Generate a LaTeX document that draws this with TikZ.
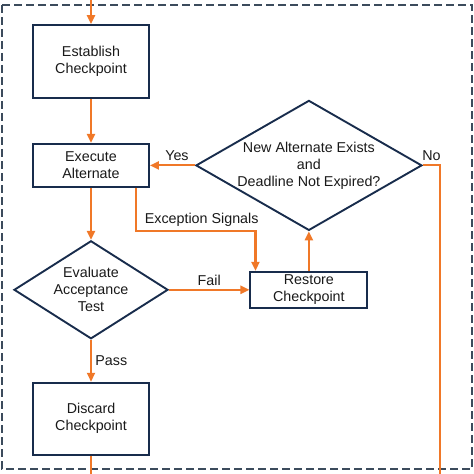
\documentclass[tikz,border=0pt]{standalone}
\usepackage{fontspec}
\setmainfont{Liberation Sans}
\usetikzlibrary{arrows.meta,positioning,shapes.geometric}
\tikzset{>={Triangle[length=9bp,width=8bp]}}
\definecolor{flowor}{RGB}{240,120,40}
\definecolor{navy}{RGB}{24,44,76}
\definecolor{framegray}{RGB}{60,75,92}
\definecolor{textgray}{RGB}{25,25,25}
\colorlet{flowline}{flowor}
\colorlet{blockline}{navy}
\tikzset{box/.style={draw=blockline,line width=1.9bp,minimum width=116bp,inner sep=0pt,align=center},
         test/.style={diamond,draw=blockline,line width=1.9bp,inner sep=0pt,align=center},
         flow/.style={line width=2.2bp,flowline}}

\begin{document}
\begin{tikzpicture}[x=1bp,y=-1bp,font=\fontsize{14.3bp}{17bp}\selectfont,every node/.append style={text=textgray}]
            \useasboundingbox (0,0) rectangle (474,474);
            \draw[framegray,line width=2.4bp,dash pattern=on 8bp off 4bp] (2,5) rectangle (472,469);
            \begin{scope}[node distance = 44bp]
                \node[box,minimum height=73bp] (Est) at (91,61.5) {Establish\\Checkpoint};
                \node[box,minimum height=43bp,below=of Est] (Exe) {Execute\\Alternate};
                \node[test,minimum width=226bp,minimum height=130bp,aspect=1.74,right=45bp of Exe] (Alt) {New Alternate Exists\\and\\Deadline Not Expired?};
                \node[test,minimum width=154bp,minimum height=98bp,aspect=1.57,below=52bp of Exe] (Acc) {Evaluate\\Acceptance\\Test};
                \node[box,minimum width=117bp,minimum height=36bp] (Res) at (Acc -| Alt) {Restore\\Checkpoint};
                \node[box,minimum height=72bp,below=42bp of Acc] (Dis) {Discard\\Checkpoint};
            \end{scope}
            \coordinate (In) at (Est.north |- 0,0);
            \coordinate (Out) at (Dis.south |- 0,474);
            \coordinate (NoEnd) at (440,474);
            \coordinate (ExA) at ([xshift=-14bp]Exe.south east);
            \coordinate (ExB) at ([xshift=6bp]Res.north west);
            \draw [->,flow] (In) -- (Est.north);
            \draw [->,flow] (Est.south) -- (Exe.north);
            \draw [->,flow] (Exe.south) -- (Acc.north);
            \draw [->,flow] (Acc.south) -- node [pos=0.5,right] {Pass} (Dis.north);
            \draw [flow] (Dis.south) -- (Out);
            \draw [->,flow] (Alt.west) -- node [pos=0.4,above] {Yes} (Exe.east);
            \draw [flow] (Alt.east) -| node [pos=0.25,above] {No} (NoEnd);
            \draw [->,flow] (Acc.east) -- node [pos=0.5,above] {Fail} (Res.west);
            \draw [->,flow] (Res.north -| Alt.south) -- (Alt.south);
            \draw [->,flow] (ExA) -- ++(0,43) coordinate (ExC) -- node [pos=0.55,above] {Exception Signals} (ExC -| ExB) -- (ExB);
         \end{tikzpicture}
\end{document}
